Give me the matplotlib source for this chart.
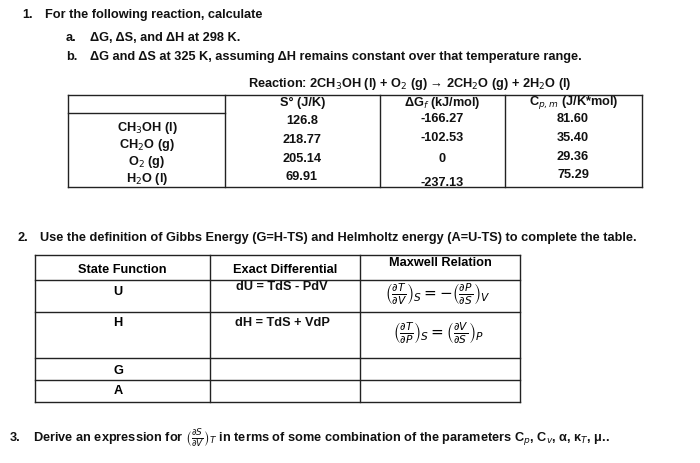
import matplotlib
matplotlib.use("Agg")
import matplotlib.pyplot as plt

species = ["CH$_3$OH (l)", "CH$_2$O (g)", "O$_2$ (g)", "H$_2$O (l)"]
entropy = ["126.8", "218.77", "205.14", "69.91"]
dGf = ["-166.27", "-102.53", "0", "-237.13"]
cp = ["81.60", "35.40", "29.36", "75.29"]
headers1 = ["S° (J/K)", "ΔG$_f$ (kJ/mol)", "C$_{p,m}$ (J/K*mol)"]
headers2 = ["State Function", "Exact Differential", "Maxwell Relation"]
functions = ["U", "H", "G", "A"]
diffs = ["dU = TdS - PdV", "dH = TdS + VdP", "", ""]
maxwell = [r"$\left(\frac{\partial T}{\partial V}\right)_S = -\left(\frac{\partial P}{\partial S}\right)_V$",
           r"$\left(\frac{\partial T}{\partial P}\right)_S = \left(\frac{\partial V}{\partial S}\right)_P$", "", ""]

plt.rcParams['font.family'] = ['Liberation Sans', 'DejaVu Sans']
FS = 9.2
fig = plt.figure(figsize=(7, 4.63), dpi=100)
ax = fig.add_axes([0, 0, 1, 1])
ax.set_xlim(0, 700); ax.set_ylim(463, 0); ax.axis("off")
kw = dict(fontsize=FS, color="#111", va="center", fontweight="semibold")

def hl(y, x0, x1): ax.plot([x0, x1], [y, y], color="#222", lw=1)
def vl(x, y0, y1): ax.plot([x, x], [y0, y1], color="#222", lw=1)

ax.text(22, 15, "1.", **kw); ax.text(45, 15, "For the following reaction, calculate", **kw)
ax.text(66, 38, "a.", **kw); ax.text(90, 38, "ΔG, ΔS, and ΔH at 298 K.", **kw)
ax.text(66, 57, "b.", **kw); ax.text(90, 57, "ΔG and ΔS at 325 K, assuming ΔH remains constant over that temperature range.", **kw)
ax.text(248, 84, "Reaction: 2CH$_3$OH (l) + O$_2$ (g) → 2CH$_2$O (g) + 2H$_2$O (l)", **kw)

xs = [68, 225, 380, 505, 642]
hl(95, 68, 642); hl(187, 68, 642); hl(113, 68, 225)
for x in xs: vl(x, 95, 187)
for i, h in enumerate(headers1):
    ax.text((xs[i+1]+xs[i+2])/2, 103, h, ha="center", **kw)
rowy = [121, 140, 159, 177]
namey = [128, 145, 162, 179]
for i in range(4):
    ax.text(147, namey[i], species[i], ha="center", **kw)
    ax.text(302, rowy[i], entropy[i], ha="center", **kw)
    ax.text(442, rowy[i] - 2 if i < 2 else rowy[i] + (0 if i == 2 else 6), dGf[i], ha="center", **kw)
    ax.text(573, rowy[i] - 2, cp[i], ha="center", **kw)

ax.text(18, 238, "2.", **kw)
ax.text(40, 238, "Use the definition of Gibbs Energy (G=H-TS) and Helmholtz energy (A=U-TS) to complete the table.", **kw)

xs2 = [35, 210, 360, 520]
ys2 = [255, 280, 312, 358, 380, 402]
for y in ys2: hl(y, 35, 520)
for x in xs2: vl(x, 255, 402)
for i, h in enumerate(headers2):
    ax.text((xs2[i]+xs2[i+1])/2, 270 if i < 2 else 263, h, ha="center", fontsize=FS, fontweight="bold", va="center")
fy = [292, 323, 371, 391]
for i in range(4):
    ax.text(118, fy[i], functions[i], ha="center", fontsize=FS, fontweight="bold", va="center")
    if diffs[i]:
        ax.text(282, 287 if i == 0 else fy[i], diffs[i], ha="center", **kw)
    if maxwell[i]:
        ax.text(438, 294 if i == 0 else 333, maxwell[i], ha="center", fontsize=11, va="center")

ax.text(10, 438, "3.", **kw)
ax.text(33, 438, r"Derive an expression for $\left(\frac{\partial S}{\partial V}\right)_T$ in terms of some combination of the parameters C$_p$, C$_v$, α, κ$_T$, μ..", **kw)

fig.savefig("out.png", dpi=100, facecolor="white")
